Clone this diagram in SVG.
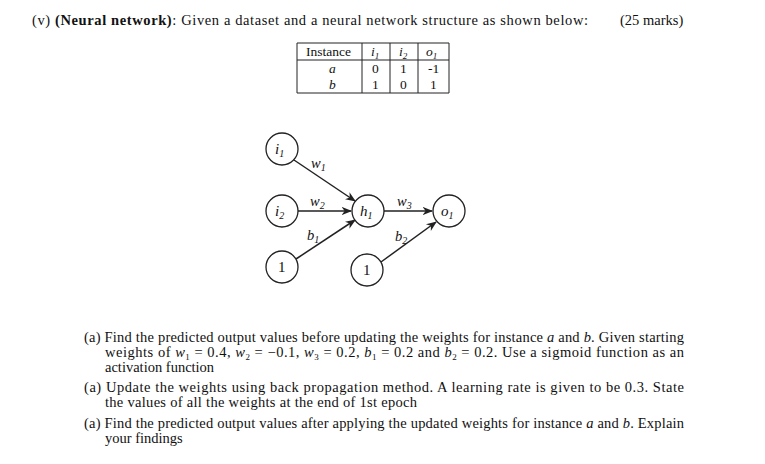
<svg xmlns="http://www.w3.org/2000/svg" width="765" height="464" viewBox="0 0 765 464">
<style>
text{font-family:"Liberation Serif",serif;font-size:14.5px;fill:#111}
.it{font-style:italic}
.n circle{fill:#fff;stroke:#222;stroke-width:1.3}
.n text{font-size:15px}
.e{stroke:#222;stroke-width:1.5;fill:none;marker-end:url(#a)}
.t{stroke:#222;stroke-width:1;fill:none}
.tb text{font-size:13.5px}
</style>
<defs><marker id="a" viewBox="0 0 10 10" refX="9" refY="5" markerWidth="7" markerHeight="7" orient="auto"><path d="M0,1 L10,5 L0,9 L3,5z" fill="#222"/></marker></defs>
<rect width="765" height="464" fill="#fff"/>
<text x="32" y="25" textLength="556" lengthAdjust="spacing">(v) <tspan font-weight="bold">(Neural network)</tspan>: Given a dataset and a neural network structure as shown below:</text>
<text x="620" y="25">(25 marks)</text>
<g id="table" class="tb">
<path class="t" d="M297,43H449V93H297Z M297,60H449 M362,43V93 M390,43V93 M418,43V93"/>
<text x="306" y="56">Instance</text>
<text x="371" y="56" class="it">i<tspan font-size="9" dy="3">1</tspan></text>
<text x="399" y="56" class="it">i<tspan font-size="9" dy="3">2</tspan></text>
<text x="426" y="56" class="it">o<tspan font-size="9" dy="3">1</tspan></text>
<text x="329" y="73" class="it">a</text><text x="372" y="73">0</text><text x="400" y="73">1</text><text x="428" y="73">-1</text>
<text x="329" y="89" class="it">b</text><text x="372" y="89">1</text><text x="400" y="89">0</text><text x="430" y="89">1</text>
</g>
<g id="connectors">
<line class="e" x1="294" y1="160" x2="355" y2="201"/>
<line class="e" x1="298" y1="211" x2="351" y2="211"/>
<line class="e" x1="296" y1="259" x2="355" y2="220"/>
<line class="e" x1="384" y1="211" x2="432" y2="211"/>
<line class="e" x1="381" y1="262" x2="436" y2="222"/>
<text x="311" y="168" class="it" font-size="15">w<tspan font-size="10" dy="3">1</tspan></text>
<text x="310" y="206" class="it" font-size="15">w<tspan font-size="10" dy="3">2</tspan></text>
<text x="307" y="240" class="it" font-size="15">b<tspan font-size="10" dy="3">1</tspan></text>
<text x="397" y="206" class="it" font-size="15">w<tspan font-size="10" dy="3">3</tspan></text>
<text x="395" y="241" class="it" font-size="15">b<tspan font-size="10" dy="3">2</tspan></text>
</g>
<g id="i1" class="n"><circle cx="282" cy="149" r="16"/><text x="275" y="154" class="it">i<tspan font-size="10" dy="3">1</tspan></text></g>
<g id="i2" class="n"><circle cx="282" cy="211" r="16"/><text x="275" y="216" class="it">i<tspan font-size="10" dy="3">2</tspan></text></g>
<g id="bias1" class="n"><circle cx="282" cy="267" r="16"/><text x="278" y="272">1</text></g>
<g id="h1" class="n"><circle cx="368" cy="211" r="16"/><text x="360" y="216" class="it">h<tspan font-size="10" dy="3">1</tspan></text></g>
<g id="bias2" class="n"><circle cx="367" cy="270" r="16"/><text x="363" y="275">1</text></g>
<g id="o1" class="n"><circle cx="449" cy="211" r="16"/><text x="441" y="216" class="it">o<tspan font-size="10" dy="3">1</tspan></text></g>
<text x="84" y="342" textLength="600" lengthAdjust="spacing">(a)  Find the predicted output values before updating the weights for instance <tspan class="it">a</tspan> and <tspan class="it">b</tspan>. Given starting</text>
<text x="105" y="357" textLength="579" lengthAdjust="spacing">weights of <tspan class="it">w</tspan><tspan font-size="9" dy="3">1</tspan><tspan dy="-3"> = 0.4, </tspan><tspan class="it">w</tspan><tspan font-size="9" dy="3">2</tspan><tspan dy="-3"> = −0.1, </tspan><tspan class="it">w</tspan><tspan font-size="9" dy="3">3</tspan><tspan dy="-3"> = 0.2, </tspan><tspan class="it">b</tspan><tspan font-size="9" dy="3">1</tspan><tspan dy="-3"> = 0.2 and </tspan><tspan class="it">b</tspan><tspan font-size="9" dy="3">2</tspan><tspan dy="-3"> = 0.2.  Use a sigmoid function as an</tspan></text>
<text x="105" y="372">activation function</text>
<text x="84" y="392" textLength="600" lengthAdjust="spacing">(a)  Update the weights using back propagation method.  A learning rate is given to be 0.3.  State</text>
<text x="105" y="407" textLength="312" lengthAdjust="spacing">the values of all the weights at the end of 1st epoch</text>
<text x="84" y="428" textLength="600" lengthAdjust="spacing">(a)  Find the predicted output values after applying the updated weights for instance <tspan class="it">a</tspan> and <tspan class="it">b</tspan>. Explain</text>
<text x="105" y="443">your findings</text>
</svg>
